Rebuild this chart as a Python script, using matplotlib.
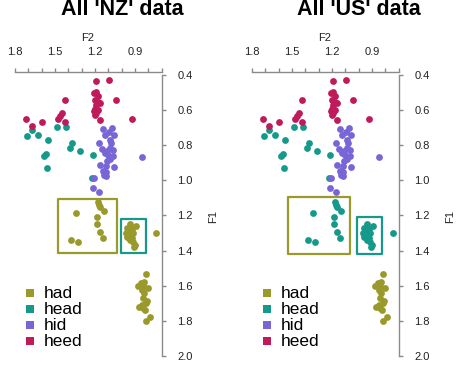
import matplotlib.pyplot as plt
from matplotlib.patches import Rectangle

plt.rcParams['font.family'] = ['Liberation Sans', 'DejaVu Sans']

W, H = 474, 371

vowels = ['had', 'head', 'hid', 'heed']
colours = {'had': '#9a9a2c', 'head': '#15998a', 'hid': '#7866d6', 'heed': '#bf1a5a'}

# formant values (normalised)
heed_f2 = [1.196, 1.095, 1.043, 1.425, 1.211, 1.193, 1.181, 1.200, 1.174, 1.193, 1.163,
           1.200, 1.181, 1.193, 1.200, 1.163, 1.444, 1.459, 1.474, 1.425, 1.714, 1.601,
           1.669, 0.920, 1.207]
heed_f1 = [0.437, 0.426, 0.540, 0.545, 0.500, 0.497, 0.522, 0.542, 0.551, 0.571, 0.562,
           0.591, 0.602, 0.616, 0.628, 0.656, 0.619, 0.636, 0.648, 0.665, 0.651, 0.665,
           0.688, 0.652, 0.605]

hid_f2 = [1.142, 1.093, 1.075, 1.125, 1.055, 1.168, 1.088, 1.078, 1.148, 1.112, 1.088,
          1.067, 1.125, 1.100, 1.063, 1.088, 1.112, 1.165, 1.115, 1.058, 1.140, 1.114,
          1.133, 1.114, 1.210, 1.215, 1.168, 0.850]
hid_f1 = [0.709, 0.723, 0.701, 0.742, 0.740, 0.786, 0.768, 0.787, 0.823, 0.833, 0.817,
          0.827, 0.846, 0.858, 0.863, 0.880, 0.890, 0.913, 0.918, 0.922, 0.947, 0.950,
          0.972, 0.978, 0.985, 1.045, 1.065, 0.869]

head_f2 = [1.712, 1.669, 1.625, 1.550, 1.487, 1.418, 1.375, 1.391, 1.313, 1.568, 1.579,
           1.558, 1.217, 1.225]
head_f1 = [0.748, 0.713, 0.742, 0.770, 0.694, 0.699, 0.789, 0.817, 0.831, 0.850, 0.861,
           0.931, 0.856, 0.987]

# tokens that differ between the two varieties
mid_f2 = [1.178, 1.172, 1.163, 1.130, 1.344, 1.187, 1.187, 1.163, 1.140, 1.380, 1.326]
mid_f1 = [1.122, 1.143, 1.150, 1.172, 1.188, 1.207, 1.250, 1.292, 1.328, 1.340, 1.349]

front_f2 = [0.938, 0.889, 0.958, 0.925, 0.968, 0.943, 0.917, 0.958, 0.925, 0.938, 0.913,
            0.900, 0.908, 0.949, 0.743]
front_f1 = [1.249, 1.260, 1.273, 1.279, 1.298, 1.302, 1.298, 1.321, 1.330, 1.340, 1.349,
            1.368, 1.381, 1.286, 1.302]

had_f2 = [0.818, 0.855, 0.829, 0.874, 0.838, 0.800, 0.850, 0.833, 0.838, 0.812, 0.818,
          0.851, 0.868, 0.840, 0.825, 0.788, 0.821]
had_f1 = [1.532, 1.582, 1.577, 1.602, 1.599, 1.615, 1.624, 1.644, 1.670, 1.687, 1.700,
          1.710, 1.721, 1.727, 1.738, 1.780, 1.803]

titles = ["All 'NZ' data", "All 'US' data"]
mid_label = ['had', 'head']       # what the shifted tokens count as
# boxes: (f2 left, f2 right, f1 top, f1 bottom)
box_had = [(1.4775, 1.035, 1.106, 1.414), (1.53, 1.065, 1.095, 1.419)]
box_head = [(1.005, 0.817, 1.220, 1.414), (1.0125, 0.825, 1.209, 1.419)]

f2_ticks = [1.8, 1.7, 1.6, 1.5, 1.4, 1.3, 1.2, 1.1, 1.0, 0.9, 0.8, 0.7]
f2_labels = ['1.8', '', '', '1.5', '', '', '1.2', '', '', '0.9', '', '']
f1_ticks = [0.4, 0.6, 0.8, 1.0, 1.2, 1.4, 1.6, 1.8, 2.0]

axcol = '#8a8a8a'
fig = plt.figure(figsize=(W / 100, H / 100), dpi=100)

for i in range(2):
    off = 237 * i
    ax = fig.add_axes([(8 + off) / W, 1 - 363 / H, 154 / W, 291 / H])
    ax.set_xlim(1.8525, 0.6975)
    ax.set_ylim(2.040, 0.383)

    ax.scatter(had_f2, had_f1, s=24, color=colours['had'], lw=0)
    ax.scatter(mid_f2, mid_f1, s=24, color=colours[mid_label[i]], lw=0)
    ax.scatter(front_f2, front_f1, s=24, color=colours[mid_label[i]], lw=0)
    ax.scatter(head_f2, head_f1, s=24, color=colours['head'], lw=0)
    ax.scatter(hid_f2, hid_f1, s=24, color=colours['hid'], lw=0)
    ax.scatter(heed_f2, heed_f1, s=24, color=colours['heed'], lw=0)

    for b, c in ((box_had[i], colours['had']), (box_head[i], colours['head'])):
        ax.add_patch(Rectangle((b[0], b[2]), b[1] - b[0], b[3] - b[2], fill=False,
                               ec=c, lw=1.6, joinstyle='round'))

    ax.spines['left'].set_visible(False)
    ax.spines['bottom'].set_visible(False)
    ax.spines['top'].set_bounds(0.7, 1.8)
    ax.spines['right'].set_bounds(0.4, 2.0)
    for s in ('top', 'right'):
        ax.spines[s].set_color(axcol)
        ax.spines[s].set_linewidth(1.0)
    ax.xaxis.tick_top()
    ax.yaxis.tick_right()
    ax.set_xticks(f2_ticks)
    ax.set_xticklabels(f2_labels)
    ax.set_yticks(f1_ticks)
    ax.set_yticklabels(['%.1f' % t for t in f1_ticks])
    ax.tick_params(direction='out', length=3, width=1.0, color=axcol,
                   labelcolor='#222222', labelsize=8, pad=8)

    fig.text((88 + off) / W, 1 - 38 / H, 'F2', ha='center', va='center',
             fontsize=8, color='#222222')
    fig.text((213 + off) / W, 1 - 216 / H, 'F1', ha='center', va='center',
             rotation=90, fontsize=8, color='#222222')
    fig.text((122 + off) / W, 1 - 15 / H, titles[i], ha='center', va='baseline',
             fontsize=15.5, fontweight='bold')

    # legend
    for k, v in enumerate(vowels):
        yc = 293 + 16 * k
        fig.patches.append(Rectangle(((25.5 + off) / W, 1 - (yc + 4) / H), 8 / W, 8 / H,
                                     transform=fig.transFigure, color=colours[v], lw=0))
        fig.text((44 + off) / W, 1 - (yc + 5.5) / H, v, ha='left', va='baseline',
                 fontsize=12.5)

fig.savefig('out.png', dpi=100)
